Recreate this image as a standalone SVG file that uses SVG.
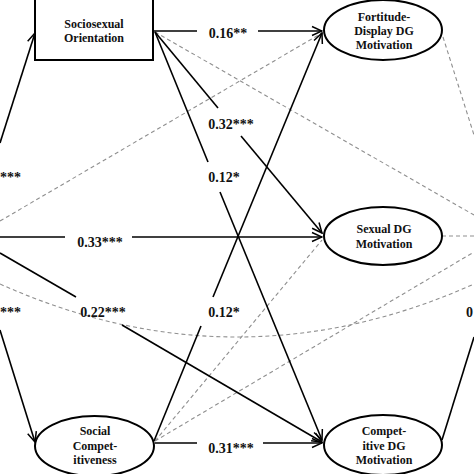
<svg xmlns="http://www.w3.org/2000/svg" width="474" height="474" viewBox="0 0 474 474">
<defs>
<style>
.node{fill:#fff;stroke:#000;stroke-width:2}
.t{font-family:"Liberation Serif","Times New Roman",serif;font-weight:bold;font-size:12px;text-anchor:middle;fill:#111}
.lbl{font-family:"Liberation Serif","Times New Roman",serif;font-weight:bold;font-size:14px;text-anchor:middle;fill:#111}
.s{fill:none;stroke:#000;stroke-width:1.6}
.d{fill:none;stroke:#8f8f8f;stroke-width:1.1;stroke-dasharray:4 3}
</style>
<marker id="arr" viewBox="-12 -6 13 12" refX="0" refY="0" markerWidth="13" markerHeight="12" markerUnits="userSpaceOnUse" orient="auto">
<path d="M-10,-4.5 L0,0 L-10,4.5" fill="none" stroke="#000" stroke-width="1.5"/>
</marker>
</defs>
<rect width="474" height="474" fill="#fff"/>
<g id="connectors">
<!-- dashed correlations -->
<line class="d" x1="155" y1="32" x2="474" y2="215"/>
<line class="d" x1="0" y1="221" x2="322" y2="33"/>
<line class="d" x1="443" y1="37" x2="474" y2="135"/>
<line class="d" x1="442" y1="236" x2="474" y2="236"/>
<line class="d" x1="155" y1="441" x2="322" y2="240"/>
<line class="d" x1="155" y1="441" x2="474" y2="252"/>
<path class="d" d="M0,284 Q237,390 474,284"/>
<!-- solid paths -->
<line class="s" x1="0" y1="143" x2="35" y2="33" marker-end="url(#arr)"/>
<line class="s" x1="0" y1="330" x2="35" y2="442" marker-end="url(#arr)"/>
<line class="s" x1="153" y1="31" x2="197" y2="31"/>
<line class="s" x1="258" y1="31" x2="322" y2="31" marker-end="url(#arr)"/>
<line class="s" x1="155" y1="32" x2="218" y2="108"/>
<line class="s" x1="241" y1="136" x2="322" y2="233" marker-end="url(#arr)"/>
<line class="s" x1="155" y1="32" x2="208" y2="162"/>
<line class="s" x1="220" y1="192" x2="322" y2="440" marker-end="url(#arr)"/>
<line class="s" x1="0" y1="237" x2="65" y2="237"/>
<line class="s" x1="132" y1="237" x2="322" y2="237" marker-end="url(#arr)"/>
<line class="s" x1="0" y1="253" x2="76" y2="297"/>
<line class="s" x1="122" y1="325" x2="322" y2="442" marker-end="url(#arr)"/>
<line class="s" x1="154" y1="441" x2="201" y2="326"/>
<line class="s" x1="213" y1="297" x2="322" y2="33" marker-end="url(#arr)"/>
<line class="s" x1="155" y1="443" x2="197" y2="443"/>
<line class="s" x1="263" y1="443" x2="322" y2="443" marker-end="url(#arr)"/>
<line class="s" x1="442" y1="440" x2="474" y2="337"/>
<!-- labels -->
<text class="lbl" x="228" y="38">0.16**</text>
<text class="lbl" x="231" y="129">0.32***</text>
<text class="lbl" x="224" y="182">0.12*</text>
<text class="lbl" x="100" y="247">0.33***</text>
<text class="lbl" x="103" y="317">0.22***</text>
<text class="lbl" x="224" y="317">0.12*</text>
<text class="lbl" x="231" y="453">0.31***</text>
<text class="lbl" x="21" y="182" style="text-anchor:end">***</text>
<text class="lbl" x="21" y="317" style="text-anchor:end">***</text>
<text class="lbl" x="466" y="317" style="text-anchor:start">0</text>
</g>
<g id="sociosexual">
<rect class="node" x="35" y="-2" width="118" height="62"/>
<text class="t" x="94" y="28">Sociosexual</text>
<text class="t" x="94" y="42">Orientation</text>
</g>
<g id="fortitude">
<ellipse class="node" cx="383" cy="30" rx="59" ry="30"/>
<text class="t" x="384" y="21">Fortitude-</text>
<text class="t" x="384" y="35">Display DG</text>
<text class="t" x="384" y="49">Motivation</text>
</g>
<g id="sexual">
<ellipse class="node" cx="383" cy="236" rx="59" ry="29"/>
<text class="t" x="384" y="233">Sexual DG</text>
<text class="t" x="384" y="248">Motivation</text>
</g>
<g id="competitive">
<ellipse class="node" cx="383" cy="445" rx="59" ry="30"/>
<text class="t" x="384" y="435">Compet-</text>
<text class="t" x="384" y="450">itive DG</text>
<text class="t" x="384" y="464">Motivation</text>
</g>
<g id="social">
<ellipse class="node" cx="94.5" cy="446" rx="59.5" ry="30"/>
<text class="t" x="95" y="435">Social</text>
<text class="t" x="95" y="450">Compet-</text>
<text class="t" x="95" y="464">itiveness</text>
</g>
</svg>
